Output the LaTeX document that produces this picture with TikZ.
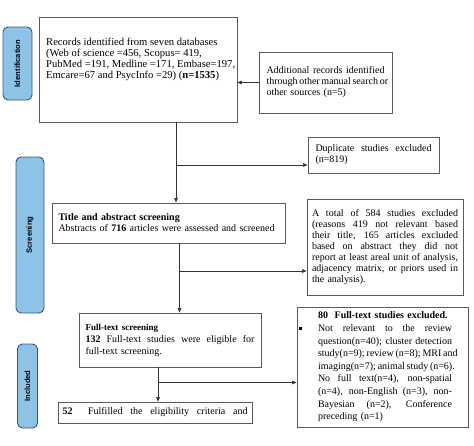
\documentclass[tikz,border=0pt]{standalone}
\usepackage{fontspec}
\setmainfont{Liberation Serif}
\newfontfamily\etiq{Liberation Sans}
\usetikzlibrary{arrows.meta}
\definecolor{azulfase}{HTML}{8EC3E8}
\definecolor{bordefase}{HTML}{3B5670}
\definecolor{gris}{HTML}{5A5A5A}
\newcommand{\jline}[2][\hsize]{{\spaceskip=0pt\xspaceskip=0pt\makebox[#1][s]{#2}}}
\newcommand{\vineta}{\makebox[19pt][l]{\rule[2pt]{2.6pt}{2.6pt}}}

\begin{document}
\begin{tikzpicture}[x=1pt, y=1pt,
  caja/.style={draw=gris, line width=0.8pt, inner sep=0pt, align=left,
               font=\fontsize{10}{11}\selectfont},
  texto/.style={inner sep=0pt, align=left, font=\fontsize{10}{11}\selectfont},
  fase/.style={draw=bordefase, fill=azulfase, rounded corners=5pt, line width=0.9pt,
               inner sep=0pt, rotate=90, font=\etiq\bfseries\fontsize{7.6}{8}\selectfont},
  flecha/.style={-{Triangle[length=4.5pt,width=3.6pt]}, draw=black!80, line width=0.6pt}
]
  \useasboundingbox (0,0) rectangle (474,-445);

  % fases
  \node[fase, minimum width=73, minimum height=29] (fid) at (17.5,-63.5) {Identification};
  \node[fase, minimum width=156, minimum height=28] (fscr) at (30,-235) {Screening};
  \node[fase, minimum width=84, minimum height=20] (finc) at (27.5,-386) {Included};

  % cajas
  \node[caja, minimum width=198, minimum height=105] (records) at (138,-69.5) {};
  \node[texto, anchor=north west, font=\fontsize{10.6}{11}\selectfont] (recordstxt) at (46,-37.5)
    {Records identified from seven databases\\(Web of science =456, Scopus= 419,\\
     PubMed =191, Medline =171, Embase=197,\\Emcare=67 and PsycInfo =29) (\textbf{n=1535})};
  \node[caja, minimum width=133, minimum height=61, text width=118] (addl) at (325.5,-82.5)
    {\jline{Additional records identified}\\\jline{through other manual search or}\\other sources (n=5)};
  \node[caja, minimum width=131, minimum height=36, text width=116] (dup) at (373.5,-155)
    {\jline{Duplicate studies excluded}\\(n=819)};
  \node[caja, minimum width=233, minimum height=40, text width=220] (title) at (168.5,-223)
    {\textbf{Title and abstract screening}\\Abstracts of \textbf{716} articles were assessed and screened};
  \node[caja, minimum width=156, minimum height=96, text width=146] (excl1) at (385,-247)
    {\jline{A total of 584 studies excluded}\\\jline{(reasons 419 not relevant based}\\
     \jline{their title, 165 articles excluded}\\\jline{based on abstract they did not}\\
     \jline{report at least areal unit of analysis,}\\\jline{adjacency matrix, or priors used in}\\
     the analysis).};
  \node[caja, minimum width=182, minimum height=54, text width=169,
        font=\fontsize{10}{12}\selectfont] (full) at (170,-340)
    {{\fontsize{9}{12}\selectfont\textbf{Full-text screening}}\\
     \jline{\textbf{132} Full-text studies were eligible for}\\full-text screening.};
  \node[caja, minimum width=171, minimum height=120, text width=167,
        font=\fontsize{10}{12.6}\selectfont] (excl2) at (382.5,-367)
    {\hspace*{19pt}\textbf{80\ \ Full-text studies excluded.}\\
     \vineta\jline[134pt]{Not relevant to the review}\\
     \hspace*{19pt}\jline[134pt]{question(n=40); cluster detection}\\
     \hspace*{19pt}\jline[134pt]{study(n=9); review (n=8); MRI and}\\
     \hspace*{19pt}\jline[134pt]{imaging(n=7); animal study (n=6).}\\
     \hspace*{19pt}\jline[134pt]{No full text(n=4), non-spatial}\\
     \hspace*{19pt}\jline[134pt]{(n=4), non-English (n=3), non-}\\
     \hspace*{19pt}\jline[134pt]{Bayesian (n=2), Conference}\\
     \hspace*{19pt}preceding (n=1)};
  \node[caja, minimum width=194, minimum height=21, text width=185] (incl) at (155,-412.5)
    {\jline{\textbf{52}\ \ Fulfilled the eligibility criteria and}};

  % conectores
  \coordinate (r1) at (176,-165);
  \coordinate (r2) at (179.5,-271);
  \coordinate (r3) at (158,-382.5);
  \draw[flecha] (addl.west) -- (addl.west -| records.east);
  \draw[flecha] (r1 |- records.south) -- (r1 |- title.north);
  \draw[flecha] (r1) -- (r1 -| dup.west);
  \draw[flecha] (r2 |- title.south) -- (r2 |- full.north);
  \draw[flecha] (r2) -- (r2 -| excl1.west);
  \draw[flecha] (r3 |- full.south) -- (r3 |- incl.north);
  \draw[flecha] (r3) -- (r3 -| excl2.west);
\end{tikzpicture}
\end{document}
